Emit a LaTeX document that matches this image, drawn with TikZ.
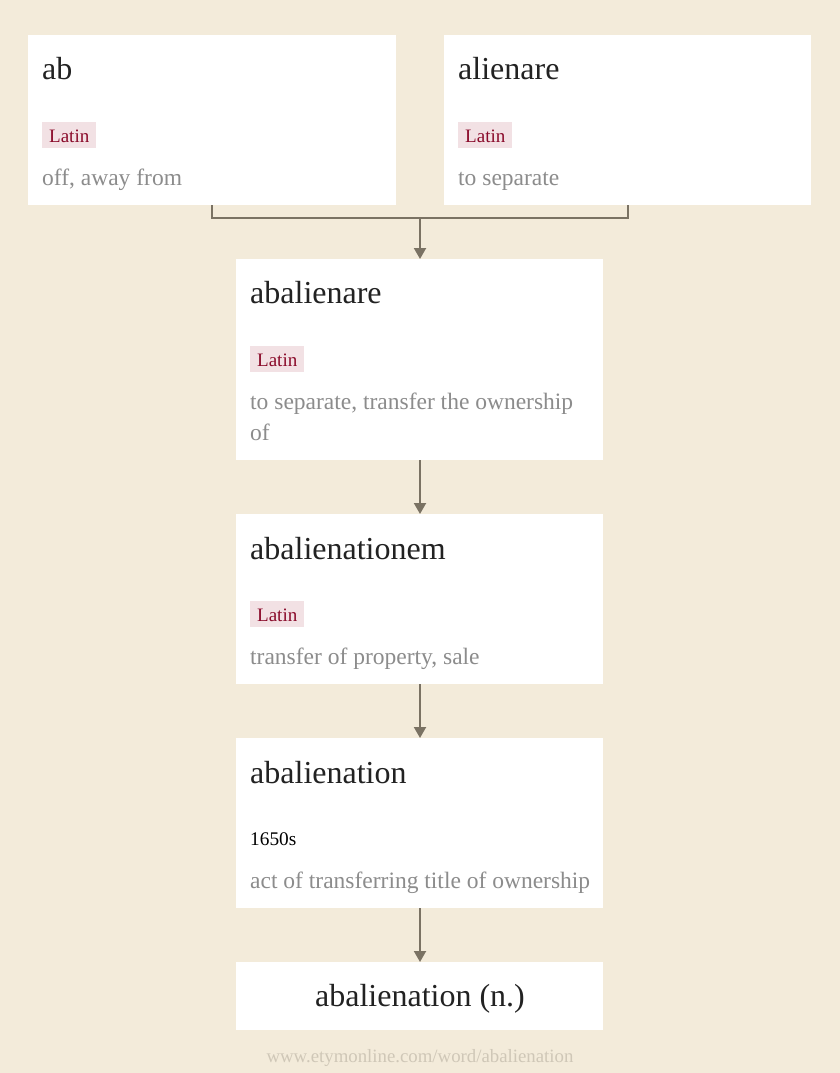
\documentclass[tikz,border=0pt]{standalone}
\usepackage{fontspec}
\setmainfont{Liberation Serif}
\usetikzlibrary{arrows.meta}
\definecolor{bg}{HTML}{F3EBDA}
\definecolor{conn}{HTML}{7A7263}
\definecolor{tagbg}{HTML}{F2E1E4}
\definecolor{tagfg}{HTML}{8A0A2A}
\definecolor{desc}{HTML}{8C8C8C}
\definecolor{title}{HTML}{222222}
\definecolor{url}{HTML}{CFC7B7}
\tikzset{
  card/.style={fill=white, draw=none},
  ttl/.style={anchor=base west, inner sep=0pt, text=title, font=\fontsize{32}{36}\selectfont},
  tag/.style={anchor=base west, inner sep=0pt, text=tagfg, font=\fontsize{19}{22}\selectfont},
  dsc/.style={anchor=base west, inner sep=0pt, text=desc, font=\fontsize{23.5}{31}\selectfont},
  dat/.style={anchor=base west, inner sep=0pt, text=black, font=\fontsize{19.3}{22}\selectfont},
  conn/.style={draw=conn, line width=2pt},
  arr/.style={conn, -{Triangle[length=11pt,width=12pt]}},
}
\begin{document}
\begin{tikzpicture}[x=1pt,y=-1pt]
\fill[bg] (0,0) rectangle (840,1073);
\useasboundingbox (0,0) rectangle (840,1073);
% cards
\fill[card] (28,35) rectangle (396,205);
\fill[card] (444,35) rectangle (811,205);
\fill[card] (236,259) rectangle (603,460);
\fill[card] (236,514) rectangle (603,684);
\fill[card] (236,738) rectangle (603,908);
\fill[card] (236,962) rectangle (603,1030);
\coordinate (abB) at (212,205);
\coordinate (alB) at (628,205);
\coordinate (j) at (420,218);
\coordinate (c1T) at (420,259);
\coordinate (c1B) at (420,460);
\coordinate (c2T) at (420,514);
\coordinate (c2B) at (420,684);
\coordinate (c3T) at (420,738);
\coordinate (c3B) at (420,908);
\coordinate (c4T) at (420,962);
% ab
\node[ttl] (t1) at (42,80) {ab};
\fill[tagbg] (42,122) rectangle (96,148);
\node[tag] (g1) at (49,142) {Latin};
\node[dsc] (d1) at (42,185) {off, away from};
% alienare
\node[ttl] (t2) at (458,80) {alienare};
\fill[tagbg] (458,122) rectangle (512,148);
\node[tag] (g2) at (465,142) {Latin};
\node[dsc] (d2) at (458,185) {to separate};
% abalienare
\node[ttl] (t3) at (250,303) {abalienare};
\fill[tagbg] (250,346) rectangle (304,372);
\node[tag] (g3) at (257,366) {Latin};
\node[dsc] (d3) at (250,409) {to separate, transfer the ownership};
\node[dsc] (d3b) at (250,440) {of};
% abalienationem
\node[ttl] (t4) at (250,559) {abalienationem};
\fill[tagbg] (250,601) rectangle (304,627);
\node[tag] (g4) at (257,621) {Latin};
\node[dsc] (d4) at (250,664) {transfer of property, sale};
% abalienation
\node[ttl] (t5) at (250,783) {abalienation};
\node[dat] (y5) at (250,845) {1650s};
\node[dsc] (d5) at (250,888) {act of transferring title of ownership};
% final
\node[anchor=base, inner sep=0pt, text=title, font=\fontsize{32}{36}\selectfont] (t6) at (420,1006) {abalienation (n.)};
\node[anchor=base, inner sep=0pt, text=url, font=\fontsize{18.8}{22}\selectfont] (u) at (420,1062) {www.etymonline.com/word/abalienation};
% connectors
\draw[conn] (abB) -- (abB |- j) -- (alB |- j) -- (alB);
\draw[arr] (j) -- (c1T);
\draw[arr] (c1B) -- (c2T);
\draw[arr] (c2B) -- (c3T);
\draw[arr] (c3B) -- (c4T);
\end{tikzpicture}
\end{document}
